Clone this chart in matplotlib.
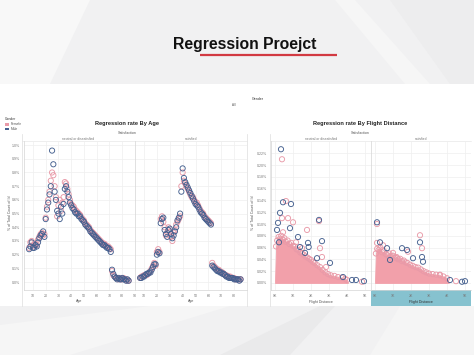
import matplotlib.pyplot as plt
import numpy as np
from matplotlib.patches import Rectangle, Polygon

plt.rcParams['font.family'] = ['Liberation Sans', 'DejaVu Sans']

# ---- data: % of total count of Id by age (ages 7..85) ----
ages = np.arange(7, 86)

nd_female = [0.25, 0.29, 0.30, 0.27, 0.26, 0.28, 0.27, 0.31, 0.33, 0.35,
             0.36, 0.34, 0.35, 0.47, 0.55, 0.60, 0.66, 0.74, 0.80, 0.78,
             0.70, 0.62, 0.48, 0.56, 0.60, 0.52, 0.58, 0.62, 0.73, 0.72,
             0.68, 0.64, 0.60, 0.57, 0.56, 0.55, 0.53, 0.52, 0.51, 0.50,
             0.49, 0.47, 0.46, 0.45, 0.43, 0.42, 0.41, 0.40, 0.38, 0.37,
             0.36, 0.35, 0.34, 0.33, 0.32, 0.31, 0.30, 0.29, 0.28, 0.28,
             0.27, 0.26, 0.26, 0.25, 0.24, 0.08, 0.05, 0.04, 0.03, 0.03,
             0.02, 0.03, 0.02, 0.02, 0.03, 0.02, 0.02, 0.01, 0.01]
nd_male = [0.24, 0.26, 0.29, 0.25, 0.25, 0.27, 0.26, 0.29, 0.32, 0.34,
           0.35, 0.37, 0.33, 0.46, 0.53, 0.58, 0.64, 0.70, 0.96, 0.86,
           0.66, 0.60, 0.52, 0.50, 0.46, 0.55, 0.50, 0.57, 0.68, 0.70,
           0.66, 0.62, 0.58, 0.56, 0.54, 0.53, 0.51, 0.50, 0.50, 0.48,
           0.48, 0.46, 0.45, 0.44, 0.42, 0.41, 0.40, 0.39, 0.37, 0.36,
           0.35, 0.34, 0.33, 0.32, 0.31, 0.30, 0.29, 0.28, 0.27, 0.27,
           0.26, 0.25, 0.25, 0.24, 0.22, 0.09, 0.06, 0.04, 0.03, 0.02,
           0.03, 0.02, 0.02, 0.03, 0.02, 0.02, 0.01, 0.02, 0.01]
s_female = [0.03, 0.04, 0.04, 0.05, 0.05, 0.05, 0.06, 0.07, 0.08, 0.10,
            0.12, 0.14, 0.12, 0.22, 0.24, 0.22, 0.46, 0.48, 0.44, 0.40,
            0.34, 0.36, 0.40, 0.37, 0.33, 0.30, 0.36, 0.38, 0.42, 0.44,
            0.46, 0.48, 0.70, 0.80, 0.74, 0.72, 0.70, 0.68, 0.66, 0.64,
            0.62, 0.62, 0.60, 0.58, 0.58, 0.56, 0.54, 0.52, 0.51, 0.50,
            0.48, 0.47, 0.46, 0.45, 0.44, 0.43, 0.14, 0.12, 0.11, 0.10,
            0.09, 0.09, 0.08, 0.07, 0.07, 0.06, 0.05, 0.05, 0.04, 0.04,
            0.04, 0.03, 0.03, 0.03, 0.02, 0.02, 0.02, 0.02, 0.02]
s_male = [0.03, 0.03, 0.04, 0.04, 0.05, 0.06, 0.06, 0.07, 0.07, 0.09,
          0.11, 0.13, 0.13, 0.20, 0.22, 0.21, 0.43, 0.46, 0.47, 0.38,
          0.35, 0.33, 0.38, 0.39, 0.35, 0.32, 0.34, 0.37, 0.40, 0.45,
          0.47, 0.50, 0.66, 0.83, 0.76, 0.73, 0.71, 0.69, 0.67, 0.65,
          0.63, 0.61, 0.59, 0.57, 0.56, 0.55, 0.53, 0.51, 0.50, 0.49,
          0.47, 0.46, 0.45, 0.44, 0.43, 0.42, 0.12, 0.11, 0.10, 0.09,
          0.08, 0.08, 0.07, 0.07, 0.06, 0.06, 0.05, 0.04, 0.04, 0.03,
          0.03, 0.03, 0.03, 0.02, 0.02, 0.02, 0.02, 0.01, 0.02]

# ---- data: flight distance (dense mass top edge + scattered points) ----
nd_env_dist = [0, 60, 120, 200, 280, 350, 430, 520, 600, 700,
               800, 900, 1000, 1100, 1200, 1300, 1400, 1500, 1600, 1700,
               1800, 1900, 2000, 2100, 2200, 2350, 2500, 2650, 2800, 2950,
               3100, 3300, 3500, 3700, 3900, 4000, 4050]
nd_env_pct = [0.0, 0.062, 0.072, 0.078, 0.075, 0.080, 0.074, 0.076, 0.070, 0.072,
              0.066, 0.068, 0.063, 0.062, 0.057, 0.056, 0.052, 0.050, 0.048, 0.045,
              0.043, 0.041, 0.039, 0.036, 0.034, 0.030, 0.027, 0.022, 0.018, 0.015,
              0.013, 0.012, 0.010, 0.009, 0.007, 0.005, 0.0]
s_env_dist = [0, 50, 120, 200, 300, 400, 500, 600, 700, 800,
              900, 1000, 1100, 1200, 1300, 1400, 1500, 1600, 1700, 1800,
              1950, 2100, 2250, 2400, 2550, 2700, 2850, 3000, 3200, 3400,
              3600, 3800, 4000, 4100]
s_env_pct = [0.0, 0.050, 0.058, 0.056, 0.060, 0.052, 0.054, 0.049, 0.047, 0.050,
             0.045, 0.046, 0.043, 0.044, 0.040, 0.041, 0.037, 0.038, 0.035, 0.034,
             0.031, 0.029, 0.027, 0.026, 0.023, 0.020, 0.018, 0.016, 0.015, 0.014,
             0.013, 0.011, 0.008, 0.0]

nd_male_dist = [333, 444, 889, 278, 167, 833, 1278, 2444, 2611, 1833, 1870,
                1667, 2333, 3056, 3778, 4278, 4500, 4944, 111, 222, 1389]
nd_male_pct = [0.227, 0.137, 0.134, 0.119, 0.102, 0.093, 0.078, 0.107, 0.071, 0.068, 0.061,
               0.051, 0.042, 0.034, 0.010, 0.005, 0.005, 0.003, 0.090, 0.069, 0.061]
nd_female_dist = [389, 611, 389, 722, 1000, 1778, 2444, 2500, 1500, 2611,
                  2833, 4833, 444, 1167]
nd_female_pct = [0.210, 0.139, 0.110, 0.110, 0.103, 0.090, 0.105, 0.059, 0.059, 0.044,
                 0.027, 0.002, 0.086, 0.069]
s_male_dist = [111, 278, 667, 1500, 1778, 2500, 2111, 2611, 2667, 833, 4167, 4833, 5000]
s_male_pct = [0.103, 0.069, 0.059, 0.059, 0.056, 0.069, 0.042, 0.044, 0.036, 0.039,
              0.005, 0.002, 0.003]
s_female_dist = [111, 111, 444, 1000, 1833, 2500, 2611, 1222, 3611, 4500]
s_female_pct = [0.100, 0.068, 0.064, 0.051, 0.053, 0.081, 0.059, 0.042, 0.014, 0.003]

age_ticks = [10, 20, 30, 40, 50, 60, 70, 80, 90]
dist_ticks = [0, 1000, 2000, 3000, 4000, 5000]

PINK = '#e99aa8'
MASS = '#f2a0aa'
NAVY = '#45608f'
GRID = '#efefef'
TXT = '#777777'

W, H = 474, 355
fig = plt.figure(figsize=(W / 100, H / 100), dpi=100)

# slide background
bg = fig.add_axes([0, 0, 1, 1])
bg.set_xlim(0, W)
bg.set_ylim(H, 0)
bg.axis('off')
bg.add_patch(Rectangle((0, 0), W, 84, color='#f1f1f2', lw=0))
bg.add_patch(Polygon([(0, 0), (90, 0), (50, 84), (0, 84)], color='#f8f8f8', lw=0))
bg.add_patch(Polygon([(335, 0), (355, 0), (430, 84), (405, 84)], color='#f6f6f6', lw=0))
bg.add_patch(Polygon([(390, 0), (474, 0), (474, 84), (450, 84)], color='#ededee', lw=0))
bg.add_patch(Rectangle((0, 306), W, 49, color='#f1f1f2', lw=0))
bg.add_patch(Polygon([(0, 355), (0, 325), (150, 306), (230, 306), (70, 355)], color='#f6f6f6', lw=0))
bg.add_patch(Polygon([(220, 355), (320, 306), (335, 306), (290, 355)], color='#eaeaeb', lw=0))
bg.add_patch(Polygon([(370, 355), (400, 306), (474, 306), (474, 355)], color='#f5f5f5', lw=0))
bg.add_patch(Rectangle((0, 84), W, 222, color='white', lw=0))
bg.text(245, 44, 'Regression Proejct', fontsize=11.3, fontweight='bold',
        ha='center', va='center', color='#111111')
bg.plot([200, 337], [54.5, 54.5], color='#d23a42', lw=1.6, solid_capstyle='butt')

# small header texts and legend
bg.text(258, 99, 'Gender', fontsize=2.6, ha='center', va='center', color='#333333')
bg.text(234, 105, 'All', fontsize=2.2, ha='center', va='center', color='#555555')
bg.text(5, 118.5, 'Gender', fontsize=2.4, ha='left', va='center', color='#333333')
bg.add_patch(Rectangle((5, 122.5), 4, 3, color=PINK, lw=0))
bg.text(11, 124, 'Female', fontsize=2.4, ha='left', va='center', color='#555555')
bg.add_patch(Rectangle((5, 127.5), 4, 2.5, color=NAVY, lw=0))
bg.text(11, 129, 'Male', fontsize=2.4, ha='left', va='center', color='#555555')

# chart titles
for cx, t in [(127, 'Regression rate By Age'), (360, 'Regression rate By Flight Distance')]:
    bg.text(cx, 124, t, fontsize=4.1, fontweight='bold', ha='center', va='center', color='#222222')
    bg.text(cx, 133, 'Satisfaction', fontsize=2.6, ha='center', va='center', color='#555555')

# facet headers
for cx, t in [(78, 'neutral or dissatisfied'), (191, 'satisfied'),
              (321, 'neutral or dissatisfied'), (421, 'satisfied')]:
    bg.text(cx, 138.5, t, fontsize=2.4, ha='center', va='center', color='#777777')

# x highlight for satisfied flight distance axis
bg.add_patch(Rectangle((371, 290), 100, 16, color='#86c2cf', lw=0))

bg.text(10, 213, '% of Total Count of Id', fontsize=2.6, rotation=90,
        ha='center', va='center', color='#555555')
bg.text(253, 213, '% of Total Count of Id', fontsize=2.6, rotation=90,
        ha='center', va='center', color='#555555')
bg.text(79, 301, 'Age', fontsize=2.6, ha='center', va='center', color='#555555')
bg.text(191, 301, 'Age', fontsize=2.6, ha='center', va='center', color='#555555')
bg.text(321, 302, 'Flight Distance', fontsize=2.6, ha='center', va='center', color='#555555')
bg.text(421, 302, 'Flight Distance', fontsize=2.6, ha='center', va='center', color='#333333')

# frame lines
for x in [22, 247, 270]:
    bg.plot([x, x], [134, 306], color='#dddddd', lw=0.5)
bg.plot([22, 247], [141, 141], color='#e2e2e2', lw=0.4)
bg.plot([270, 471], [141, 141], color='#e2e2e2', lw=0.4)


def px_axes(x0, y0, x1, y1):
    ax = fig.add_axes([x0 / W, 1 - y1 / H, (x1 - x0) / W, (y1 - y0) / H])
    ax.set_facecolor('none')
    for s in ['top', 'right']:
        ax.spines[s].set_visible(False)
    ax.spines['left'].set_color('#d5d5d5')
    ax.spines['bottom'].set_color('#d5d5d5')
    ax.spines['left'].set_linewidth(0.5)
    ax.spines['bottom'].set_linewidth(0.5)
    ax.tick_params(length=0, labelsize=2.6, colors=TXT, pad=3)
    ax.grid(True, color=GRID, lw=0.5)
    ax.set_axisbelow(True)
    return ax


sc = dict(s=14, facecolors='none', linewidths=0.65)

# ---- Age chart ----
for i, (x0, x1, fem, mal, ticks) in enumerate([
        (24, 135, nd_female, nd_male, age_ticks),
        (135, 247, s_female, s_male, age_ticks[:-1])]):
    ax = px_axes(x0, 141, x1, 290)
    ax.scatter(ages, fem, edgecolors=PINK, **sc)
    ax.scatter(ages, mal, edgecolors=NAVY, **sc)
    ax.set_xlim(3, 90)
    ax.set_ylim(-0.058, 1.03)
    ax.set_xticks(ticks)
    ax.set_yticks(np.arange(0, 1.01, 0.1))
    if i == 0:
        ax.set_yticklabels(['%.1f%%' % v for v in np.arange(0, 1.01, 0.1)])
    else:
        ax.set_yticklabels([])

# ---- Flight distance chart ----
for i, (x0, x1, ed, ep, fd, fp, md, mp) in enumerate([
        (271, 371, nd_env_dist, nd_env_pct, nd_female_dist, nd_female_pct, nd_male_dist, nd_male_pct),
        (371, 471, s_env_dist, s_env_pct, s_female_dist, s_female_pct, s_male_dist, s_male_pct)]):
    ax = px_axes(x0, 141, x1, 290)
    ax.fill_between(ed, 0, ep, color=MASS, lw=0.6, edgecolor=MASS, zorder=2)
    ax.scatter(ed[1:-1], ep[1:-1], edgecolors=PINK, zorder=3, **sc)
    ax.scatter(fd, fp, edgecolors=PINK, zorder=3, **sc)
    ax.scatter(md, mp, edgecolors=NAVY, zorder=3, **sc)
    ax.set_xlim(-222, 5333)
    ax.set_ylim(-0.012, 0.241)
    ax.set_xticks(dist_ticks)
    ax.set_xticklabels(['%dK' % (d // 1000) for d in dist_ticks])
    yt = np.arange(0, 0.221, 0.02)
    ax.set_yticks(yt)
    if i == 0:
        ax.set_yticklabels(['%.2f%%' % v for v in yt])
    else:
        ax.set_yticklabels([])

fig.savefig('out.png', dpi=100)
